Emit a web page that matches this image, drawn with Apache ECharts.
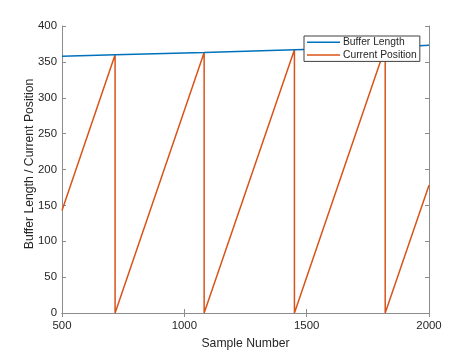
<!DOCTYPE html>
<html>
<head>
<meta charset="utf-8">
<script src="https://cdn.jsdelivr.net/npm/echarts@6/dist/echarts.min.js"></script>
<style>html,body{margin:0;padding:0;background:#fff;}#c{width:474px;height:355px;}</style>
</head>
<body>
<div id="c"></div>
<script>
const xTicks = [500, 1000, 1500, 2000];
const yTicks = [0, 50, 100, 150, 200, 250, 300, 350, 400];
const bufferX = [500, 717, 1081, 1450, 1821, 2000];
const bufferY = [358, 360, 363, 367, 370, 373];
const positionX = [500, 717, 717, 1081, 1081, 1450, 1450, 1821, 1821, 2000];
const positionY = [143, 360, 0, 363, 0, 367, 0, 370, 0, 178];

const zip = (xs, ys) => xs.map((x, i) => [x, ys[i]]);
const font = 'Liberation Sans, Arial, Helvetica, sans-serif';
const axisCol = '#8c8c8c';
const txtCol = '#262626';

const chart = echarts.init(document.getElementById('c'), null, {renderer: 'canvas'});
const xBase = {
  type: 'value', min: 500, max: 2000, interval: 500,
  splitLine: {show: false},
  axisLine: {show: true, lineStyle: {color: axisCol, width: 1}},
  axisTick: {show: true, inside: true, length: 4, lineStyle: {color: axisCol}},
};
const yBase = {
  type: 'value', min: 0, max: 400, interval: 50,
  splitLine: {show: false},
  axisLine: {show: true, lineStyle: {color: axisCol, width: 1}},
  axisTick: {show: true, inside: true, length: 4, lineStyle: {color: axisCol}},
};
chart.setOption({
  animation: false,
  backgroundColor: '#fff',
  grid: {left: 62, right: 45, top: 26, bottom: 40, containLabel: false},
  xAxis: [
    Object.assign({}, xBase, {
      position: 'bottom',
      name: 'Sample Number', nameLocation: 'middle', nameGap: 25, nameMoveOverlap: false,
      nameTextStyle: {fontFamily: font, fontSize: 12.2, color: txtCol},
      axisLabel: {fontFamily: font, fontSize: 11.4, color: txtCol, margin: 7,
        formatter: v => xTicks.includes(v) ? String(v) : ''}
    }),
    Object.assign({}, xBase, {position: 'top', axisLabel: {show: false}})
  ],
  yAxis: [
    Object.assign({}, yBase, {
      position: 'left',
      name: 'Buffer Length / Current Position', nameLocation: 'middle', nameGap: 26, nameMoveOverlap: false,
      nameTextStyle: {fontFamily: font, fontSize: 12.2, color: txtCol, padding: [0, 0, 0, 11]},
      axisLabel: {fontFamily: font, fontSize: 11.4, color: txtCol, margin: 5,
        formatter: v => yTicks.includes(v) ? String(v) : ''}
    }),
    Object.assign({}, yBase, {position: 'right', axisLabel: {show: false}})
  ],
  legend: {
    orient: 'vertical', left: 304, top: 36,
    padding: [0, 3, 0, 3], itemGap: 0,
    itemWidth: 33, itemHeight: 1.5, icon: 'rect',
    backgroundColor: '#fff', borderColor: '#404040', borderWidth: 1,
    textStyle: {fontFamily: font, fontSize: 10.3, lineHeight: 12.7, color: txtCol, padding: [0, 0, 0, -2]},
    data: ['Buffer Length', 'Current Position']
  },
  series: [
    {
      name: 'Buffer Length', type: 'line', data: zip(bufferX, bufferY),
      symbol: 'none', lineStyle: {color: '#0072BD', width: 1.5}, itemStyle: {color: '#0072BD'},
      xAxisIndex: 0, yAxisIndex: 0, z: 3
    },
    {
      name: 'Current Position', type: 'line', data: zip(positionX, positionY),
      symbol: 'none', lineStyle: {color: '#D95319', width: 1.5}, itemStyle: {color: '#D95319'},
      xAxisIndex: 0, yAxisIndex: 0, z: 2
    }
  ]
});
</script>
</body>
</html>
